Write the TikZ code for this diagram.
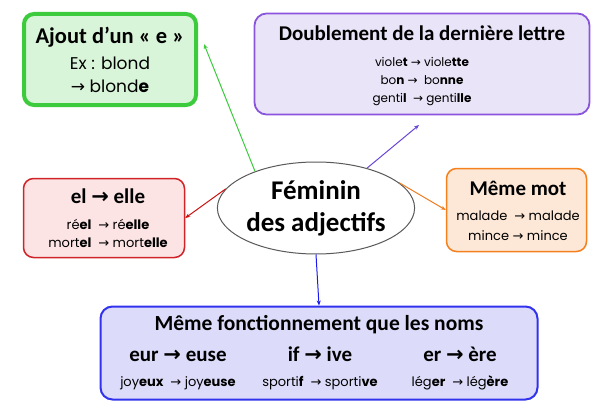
\documentclass[tikz,border=0pt]{standalone}
\usepackage{fontspec}
\setmainfont{Carlito}
\newfontfamily\gothic{Poppins}
\newfontfamily\arrowfont{DejaVu Sans}
\usetikzlibrary{shapes.geometric,arrows.meta}
\newcommand\rar{{\arrowfont →}}
\definecolor{gbord}{HTML}{3CCB3C}\definecolor{gfill}{HTML}{D9F5D9}
\definecolor{pbord}{HTML}{8A55DD}\definecolor{pfill}{HTML}{EAE4F8}
\definecolor{rbord}{HTML}{D02428}\definecolor{rfill}{HTML}{FCE3E4}
\definecolor{obord}{HTML}{F5801E}\definecolor{ofill}{HTML}{FDE8D8}
\definecolor{bbord}{HTML}{3232EE}\definecolor{bfill}{HTML}{DCDCFA}
\definecolor{garr}{HTML}{3CCB3C}\definecolor{parr}{HTML}{6A44D8}
\definecolor{rarr}{HTML}{CC1111}\definecolor{oarr}{HTML}{F07C20}
\definecolor{barr}{HTML}{1A1AF0}
\tikzset{
  box/.style={draw, rounded corners=10pt, inner sep=0pt},
  lbl/.style={inner sep=0pt, text height=0.7em, text depth=0pt, anchor=center},
  ttl/.style={lbl, font=\fontsize{21}{23}\selectfont\bfseries},
  sml/.style={lbl, font=\fontsize{13}{15}\selectfont\gothic},
  conn/.style={-{Stealth[length=5pt,width=4pt]}, line width=1pt},
}
\begin{document}
\begin{tikzpicture}[x=1pt,y=-1pt]
\useasboundingbox (0,0) rectangle (600,412);
% boxes
\node[box, draw=gbord, fill=gfill, line width=4pt, minimum width=172pt, minimum height=91pt] (green) at (110,59.5) {};
\node[box, draw=pbord, fill=pfill, line width=1.8pt, rounded corners=12pt, minimum width=335pt, minimum height=101pt] (purple) at (422,64) {};
\node[box, draw=rbord, fill=rfill, line width=1.5pt, minimum width=161pt, minimum height=79pt] (red) at (104,218) {};
\node[box, draw=obord, fill=ofill, line width=1.5pt, minimum width=140pt, minimum height=83pt] (orange) at (516.5,210) {};
\node[box, draw=bbord, fill=bfill, line width=2pt, rounded corners=12pt, minimum width=437pt, minimum height=93pt] (blue) at (319,353) {};
% centre
\node[ellipse, draw=black!65, fill=white, line width=1pt, minimum width=182pt, minimum height=92pt, inner sep=0pt,
      align=center, font=\fontsize{27}{32}\selectfont\bfseries] (ell) at (316,208) {Féminin\\des adjectifs};
% green texts
\node[lbl, font=\fontsize{22.5}{24}\selectfont\bfseries] (gt) at (110,40) {Ajout d’un « e »};
\node[lbl, font=\fontsize{17}{19}\selectfont\gothic] (g1) at (110,66) {Ex : blond};
\node[lbl, font=\fontsize{17}{19}\selectfont\gothic] (g2) at (110,89) {\rar{} blond\textbf{e}};
% purple texts
\node[ttl] (pt) at (422,37) {Doublement de la dernière lettre};
\node[sml, font=\fontsize{12}{14}\selectfont\gothic] (p1) at (422,63) {viole\textbf{t} \rar{} viole\textbf{tte}};
\node[sml, font=\fontsize{12}{14}\selectfont\gothic] (p2) at (422,81) {bo\textbf{n} \rar{}\ \ bo\textbf{nne}};
\node[sml, font=\fontsize{12}{14}\selectfont\gothic] (p3) at (422,99) {genti\textbf{l}\ \ \rar{} genti\textbf{lle}};
% red texts
\node[ttl] (rt) at (108,200) {el \rar{} elle};
\node[sml] (r1) at (108,226) {ré\textbf{el}\ \ \rar{} ré\textbf{elle}};
\node[sml] (r2) at (108,244) {mort\textbf{el}\ \ \rar{} mort\textbf{elle}};
% orange texts
\node[ttl] (ot) at (518,192) {Même mot};
\node[sml] (o1) at (518,217) {malade\ \ \rar{} malade};
\node[sml] (o2) at (518,237) {mince \rar{} mince};
% blue texts
\node[lbl, font=\fontsize{21.5}{23}\selectfont\bfseries] (bt) at (319,327) {Même fonctionnement que les noms};
\node[ttl] (b1) at (178,358) {eur \rar{} euse};
\node[ttl] (b2) at (320,358) {if \rar{} ive};
\node[ttl] (b3) at (460,358) {er \rar{} ère};
\node[sml] (b4) at (178,383) {joy\textbf{eux}\ \ \rar{} joy\textbf{euse}};
\node[sml] (b5) at (320,383) {sporti\textbf{f}\ \ \rar{} sporti\textbf{ve}};
\node[sml] (b6) at (460,383) {lég\textbf{er}\ \ \rar{} lég\textbf{ère}};
% connectors
\coordinate (gtip) at (204,44);
\coordinate (ptip) at (419,125);
\draw[conn, garr] (ell.149) -- (gtip);
\draw[conn, parr] (ell.38) -- (ptip);
\draw[conn, rarr] (ell.168) -- (red.east);
\draw[conn, oarr] (ell.17) -- (orange.west);
\draw[conn, barr] (ell.south) -- (blue.north);
\end{tikzpicture}
\end{document}
